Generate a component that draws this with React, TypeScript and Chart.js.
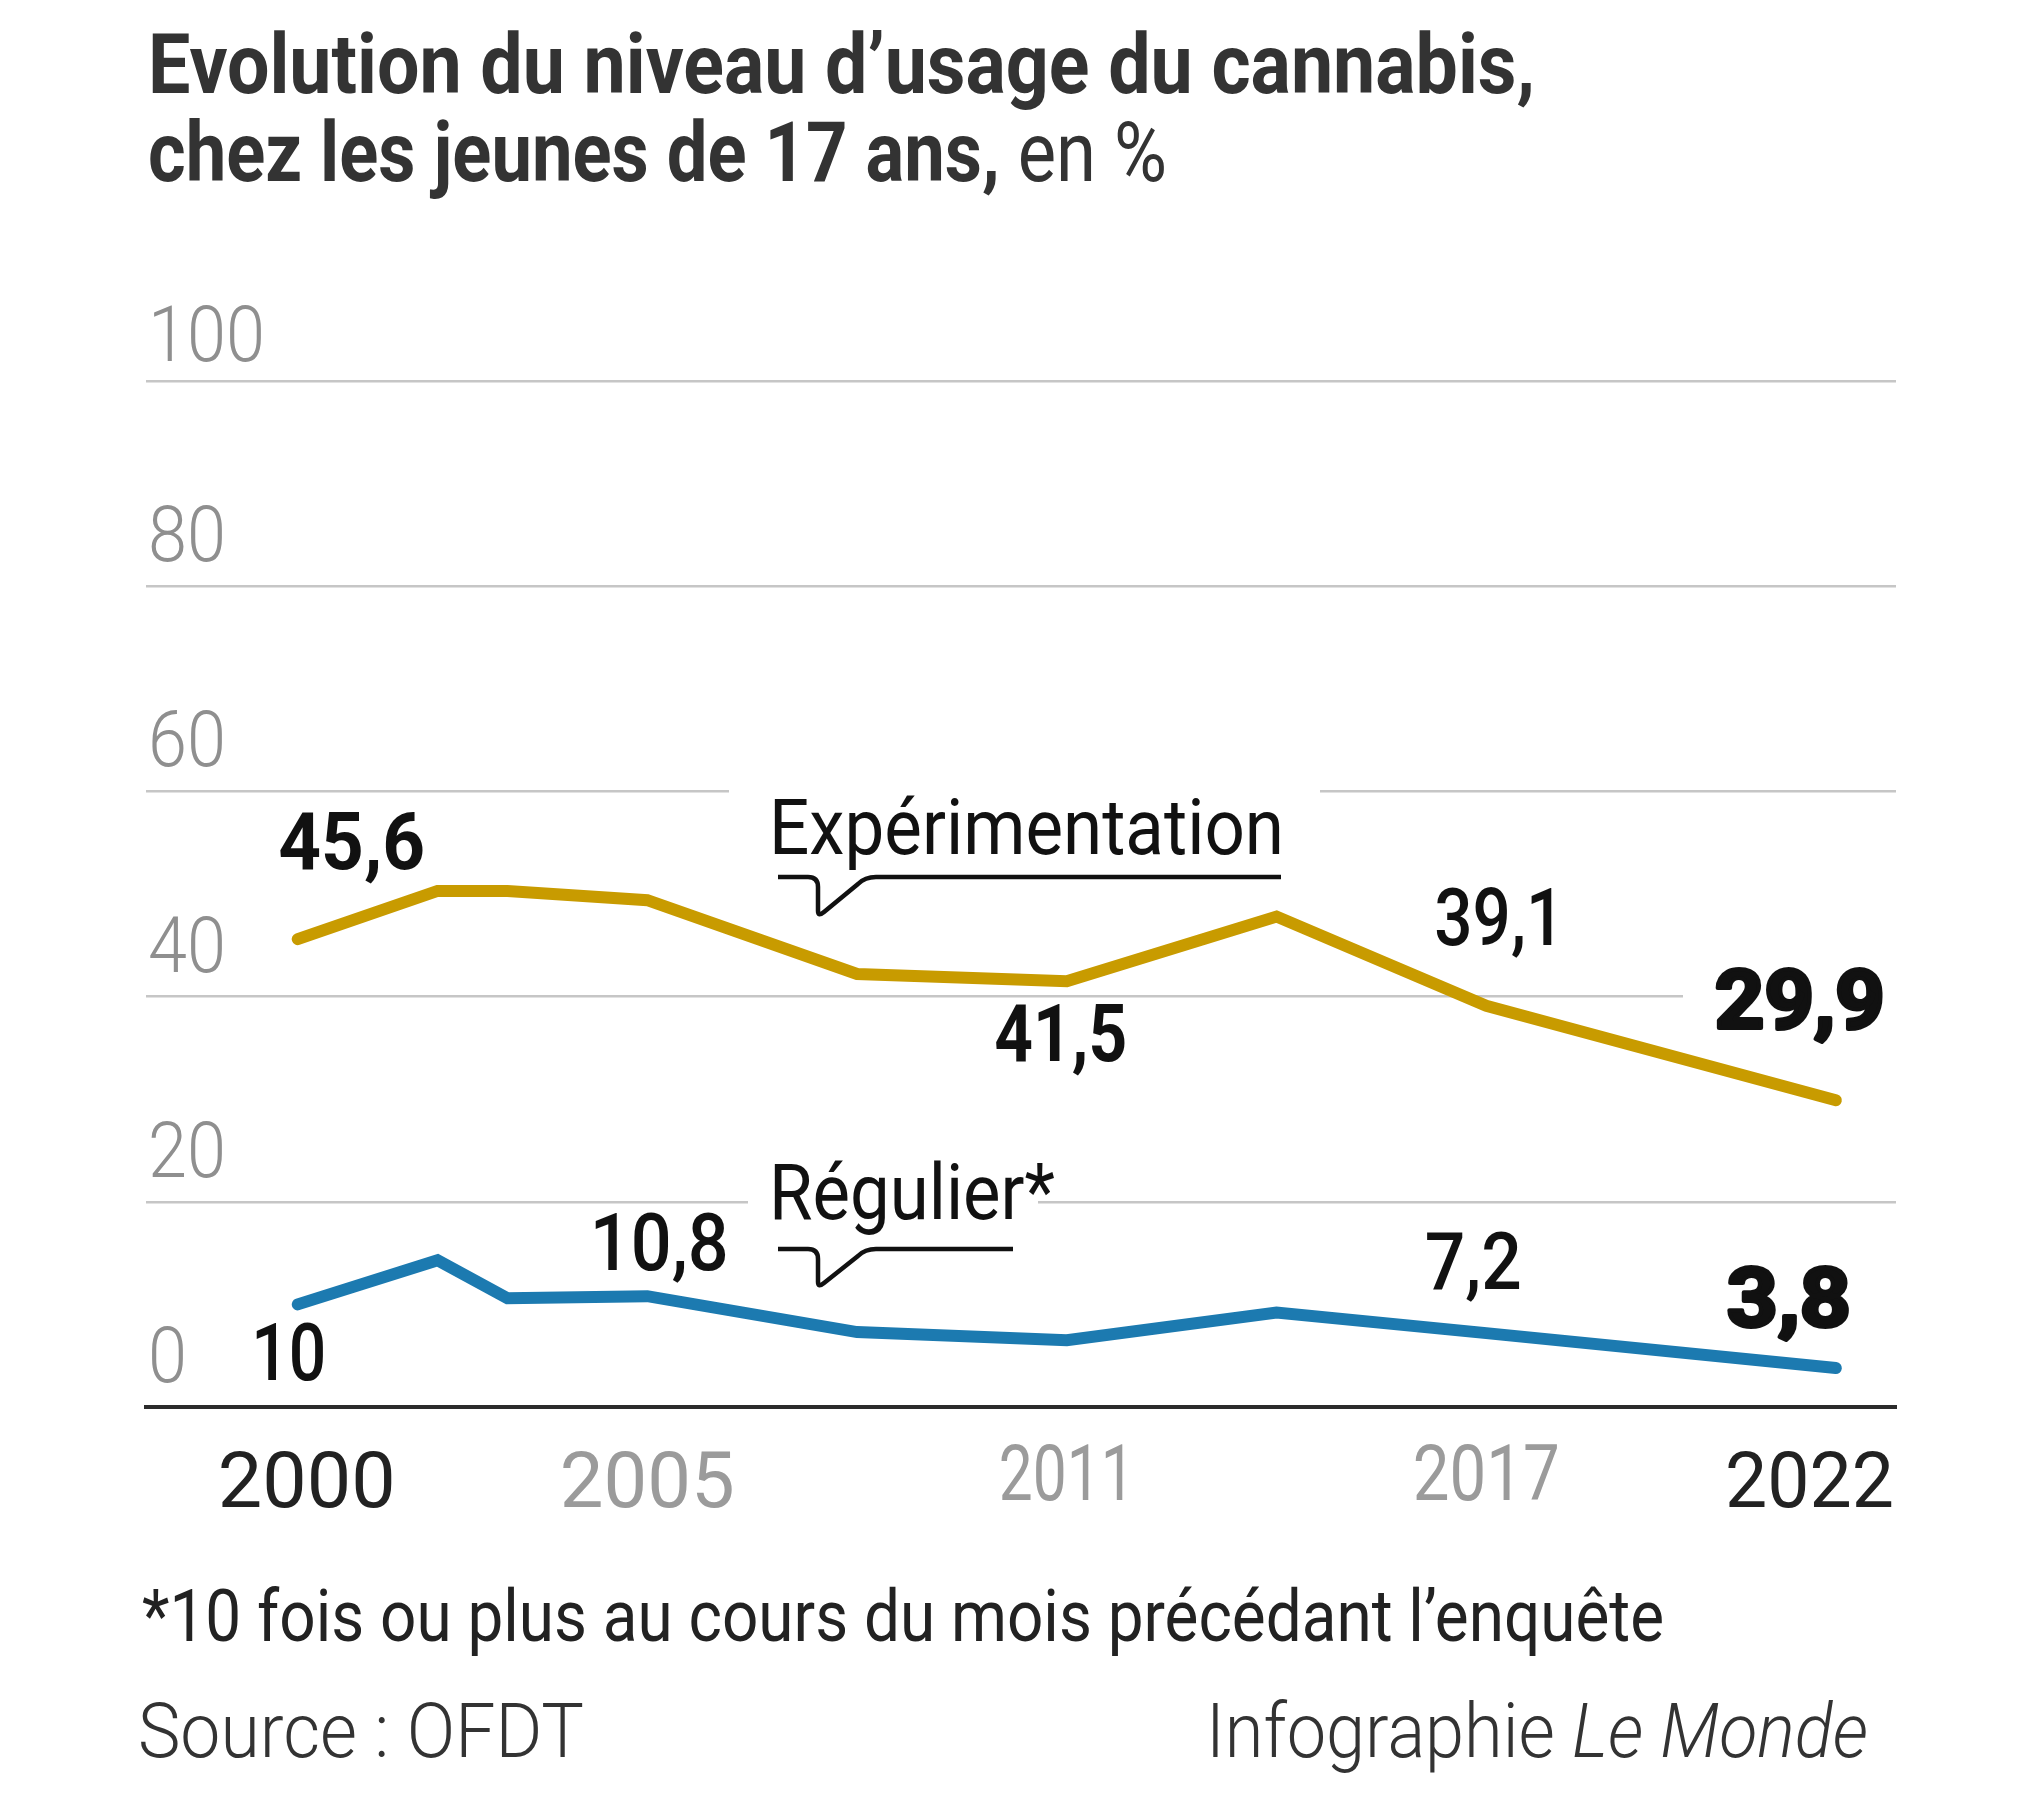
import React, { useEffect, useRef } from "react";
import { Chart, registerables } from "chart.js";

Chart.register(...registerables);

// ---------- data ----------
const years = [2000, 2002, 2003, 2005, 2008, 2011, 2014, 2017, 2022];
const experimentation = [45.6, 50.3, 50.3, 49.4, 42.2, 41.5, 47.8, 39.1, 29.9];
const regulier = [10.0, 14.3, 10.6, 10.8, 7.3, 6.5, 9.2, 7.2, 3.8];
const yTickValues = [0, 20, 40, 60, 80, 100];
const xTickYears = [2000, 2005, 2011, 2017, 2022];
const xTickDark = [2000, 2022];
const expLabeledYears = [2000, 2011, 2017, 2022];
const regLabeledYears = [2000, 2005, 2017, 2022];
const seriesNames = ["Expérimentation", "Régulier*"];
const titleLine1 = "Evolution du niveau d’usage du cannabis,";
const titleLine2Bold = "chez les jeunes de 17 ans,";
const titleLine2Regular = " en %";
const footnote = "*10 fois ou plus au cours du mois précédant l’enquête";
const sourceText = "Source : OFDT";
const creditText = "Infographie ";
const creditItalic = "Le Monde";

// ---------- style ----------
const W = 2019;
const H = 1800;
const GOLD = "#C89B00";
const BLUE = "#1C7AB0";
const FAM = 'Roboto, "Liberation Sans", "DejaVu Sans", sans-serif';
const X_MIN = 1997.83;
const X_MAX = 2022.86;
const xTickWidths: Record<number, number> = { 2000: 178, 2005: 175, 2011: 136, 2017: 147, 2022: 169 };

type LabelStyle = { dx: number; dy: number; w: number; size: number; width: number; stroke?: number };
const expLabelStyle: Record<number, LabelStyle> = {
  2000: { dx: 54, dy: -70, w: 700, size: 80, width: 147 },
  2011: { dx: -6, dy: 80, w: 700, size: 80, width: 133 },
  2017: { dx: 13, dy: -61, w: 500, size: 80, width: 130 },
  2022: { dx: -36, dy: -72, w: 700, size: 82, width: 174, stroke: 4 },
};
const regLabelStyle: Record<number, LabelStyle> = {
  2000: { dx: -9, dy: 76, w: 500, size: 80, width: 75 },
  2005: { dx: 12, dy: -26, w: 500, size: 80, width: 139 },
  2017: { dx: -13, dy: -44, w: 500, size: 80, width: 97 },
  2022: { dx: -47, dy: -42, w: 700, size: 82, width: 128, stroke: 4 },
};

type Part = { text: string; font: string; color: string };

function drawRun(
  ctx: CanvasRenderingContext2D,
  parts: Part[],
  x: number,
  y: number,
  align: "left" | "center" | "right",
  targetW?: number,
  squeeze = 1,
  stroke = 0
) {
  let natural = 0;
  parts.forEach((p) => {
    ctx.font = p.font;
    natural += ctx.measureText(p.text).width;
  });
  const s = targetW ? (targetW - stroke) / natural : squeeze;
  const total = natural * s;
  const start = align === "left" ? x : align === "center" ? x - total / 2 : x - total;
  ctx.save();
  ctx.textAlign = "left";
  ctx.textBaseline = "alphabetic";
  ctx.translate(start, y);
  ctx.scale(s, 1);
  let cx = 0;
  parts.forEach((p) => {
    ctx.font = p.font;
    ctx.fillStyle = p.color;
    ctx.fillText(p.text, cx, 0);
    if (stroke > 0) {
      ctx.strokeStyle = p.color;
      ctx.lineWidth = stroke;
      ctx.lineJoin = "round";
      ctx.strokeText(p.text, cx, 0);
    }
    cx += ctx.measureText(p.text).width;
  });
  ctx.restore();
}

function drawBracket(ctx: CanvasRenderingContext2D, x0: number, y0: number, x1: number, depth: number) {
  ctx.save();
  ctx.strokeStyle = "#111";
  ctx.lineWidth = 4.5;
  ctx.lineJoin = "round";
  ctx.lineCap = "butt";
  ctx.beginPath();
  ctx.moveTo(x0, y0);
  ctx.lineTo(x0 + 30, y0);
  ctx.quadraticCurveTo(x0 + 40, y0, x0 + 40, y0 + 10);
  ctx.lineTo(x0 + 40, y0 + depth - 5);
  ctx.quadraticCurveTo(x0 + 40, y0 + depth + 1, x0 + 46, y0 + depth - 4);
  ctx.lineTo(x0 + 80, y0 + 7);
  ctx.quadraticCurveTo(x0 + 87, y0, x0 + 98, y0);
  ctx.lineTo(x1, y0);
  ctx.stroke();
  ctx.restore();
}

const fmt = (v: number) => String(v).replace(".", ",");

const annotPlugin = {
  id: "annot",
  beforeDatasetsDraw(chart: any) {
    const { ctx, chartArea, scales } = chart;
    const y = scales.y;
    // knock-outs in the grid behind the labels
    const gaps = [
      { v: 60, x0: 729, x1: 1320 },
      { v: 40, x0: 1683, x1: chartArea.right + 4 },
      { v: 20, x0: 748, x1: 1038 },
    ];
    ctx.save();
    ctx.fillStyle = "#fff";
    gaps.forEach((g) => {
      const py = y.getPixelForValue(g.v);
      ctx.fillRect(g.x0, py - 4, g.x1 - g.x0, 8);
    });
    ctx.restore();
  },
  afterDatasetsDraw(chart: any) {
    const { ctx, chartArea, scales } = chart;
    const x = scales.x;
    const y = scales.y;

    // title
    drawRun(ctx, [{ text: titleLine1, font: `700 84px ${FAM}`, color: "#333" }], 148, 93, "left", 1387);
    drawRun(
      ctx,
      [
        { text: titleLine2Bold, font: `700 84px ${FAM}`, color: "#333" },
        { text: titleLine2Regular, font: `400 84px ${FAM}`, color: "#333" },
      ],
      148,
      181,
      "left",
      1019
    );

    // y tick labels (above their gridline)
    yTickValues.forEach((v) => {
      drawRun(
        ctx,
        [{ text: String(v), font: `300 78px ${FAM}`, color: "#8f8f8f" }],
        chartArea.left + 2,
        y.getPixelForValue(v) - (v === 100 ? 20 : 25),
        "left",
        undefined,
        0.9
      );
    });

    // x tick labels
    xTickYears.forEach((yr, i) => {
      const dark = xTickDark.includes(yr);
      const last = i === xTickYears.length - 1;
      const px = last ? chartArea.right - 2 : x.getPixelForValue(yr) + (i === 0 ? 9 : 0);
      const by = chartArea.bottom + (dark || yr === 2005 ? 100 : 93);
      drawRun(
        ctx,
        [{ text: String(yr), font: `400 78px ${FAM}`, color: dark ? "#222" : "#9b9b9b" }],
        px,
        by,
        last ? "right" : "center",
        xTickWidths[yr]
      );
    });

    // value labels
    const drawValues = (vals: number[], labeled: number[], st: Record<number, LabelStyle>) => {
      labeled.forEach((yr) => {
        const i = years.indexOf(yr);
        const s = st[yr];
        const px = x.getPixelForValue(yr) + s.dx;
        const py = y.getPixelForValue(vals[i]) + s.dy;
        drawRun(
          ctx,
          [{ text: fmt(vals[i]), font: `${s.w} ${s.size}px ${FAM}`, color: "#111" }],
          px,
          py,
          "center",
          s.width,
          1,
          s.stroke || 0
        );
      });
    };
    drawValues(experimentation, expLabeledYears, expLabelStyle);
    drawValues(regulier, regLabeledYears, regLabelStyle);

    // series labels with their brackets
    drawRun(ctx, [{ text: seriesNames[0], font: `400 78px ${FAM}`, color: "#111" }], 769, 854, "left", 515);
    drawBracket(ctx, 778, 877, 1281, 39);
    drawRun(ctx, [{ text: seriesNames[1], font: `400 78px ${FAM}`, color: "#111" }], 769, 1219, "left", 286);
    drawBracket(ctx, 778, 1249, 1013, 38);

    // footer
    drawRun(ctx, [{ text: footnote, font: `400 72px ${FAM}`, color: "#222" }], 142, 1641, "left", 1522);
    drawRun(ctx, [{ text: sourceText, font: `300 76px ${FAM}`, color: "#333" }], 138, 1757, "left", 446);
    drawRun(
      ctx,
      [
        { text: creditText, font: `300 76px ${FAM}`, color: "#333" },
        { text: creditItalic, font: `italic 300 76px ${FAM}`, color: "#333" },
      ],
      1868,
      1757,
      "right",
      662
    );
  },
};

export default function App() {
  const ref = useRef<HTMLCanvasElement>(null);
  useEffect(() => {
    if (!ref.current) return;
    const chart = new Chart(ref.current, {
      type: "line",
      data: {
        datasets: [
          {
            label: seriesNames[0],
            data: years.map((yr, i) => ({ x: yr, y: experimentation[i] })),
            borderColor: GOLD,
            backgroundColor: GOLD,
            borderWidth: 12,
            pointRadius: 0,
            tension: 0,
            borderCapStyle: "round",
            borderJoinStyle: "miter",
            fill: false,
          },
          {
            label: seriesNames[1],
            data: years.map((yr, i) => ({ x: yr, y: regulier[i] })),
            borderColor: BLUE,
            backgroundColor: BLUE,
            borderWidth: 12,
            pointRadius: 0,
            tension: 0,
            borderCapStyle: "round",
            borderJoinStyle: "miter",
            fill: false,
          },
        ],
      },
      options: {
        responsive: false,
        animation: false,
        devicePixelRatio: 1,
        layout: { padding: { left: 146, right: 123, top: 381, bottom: 393 } },
        plugins: {
          legend: { display: false },
          tooltip: { enabled: false },
          title: { display: false },
        },
        scales: {
          x: {
            type: "linear",
            min: X_MIN,
            max: X_MAX,
            ticks: { display: false },
            grid: { display: false, drawTicks: false },
            border: { display: true, color: "#2b2b2b", width: 4 },
          },
          y: {
            type: "linear",
            min: 0,
            max: 100,
            ticks: { display: false, stepSize: 20 },
            grid: {
              drawTicks: false,
              lineWidth: 2.5,
              color: (c: any) => (c.tick && c.tick.value === 0 ? "rgba(0,0,0,0)" : "#c6c6c6"),
            },
            border: { display: false },
          },
        },
      } as any,
      plugins: [annotPlugin],
    });
    return () => chart.destroy();
  }, []);
  return (
    <div style={{ position: "absolute", left: 0, top: 0, width: W, height: H, background: "#fff" }}>
      <canvas ref={ref} width={W} height={H} style={{ display: "block", width: W, height: H }} />
    </div>
  );
}
